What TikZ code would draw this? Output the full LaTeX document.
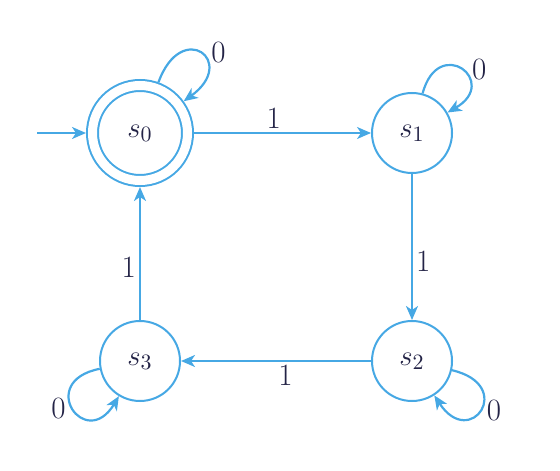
\documentclass[tikz,border=0pt]{standalone}
\usepackage{amsmath,amssymb}
\usepackage{xcolor}
\usetikzlibrary{arrows.meta}
\definecolor{edgeblue}{RGB}{70,168,228}
\definecolor{labelink}{RGB}{35,35,70}
\tikzset{
	state/.style={
			draw=edgeblue, circle, line width=1pt, minimum size=40pt, inner sep=0pt, text=labelink
		},
	accept/.style={
			state, double=white, double distance=4.5pt, minimum size=47.5pt, outer sep=3.25pt
		},
	trans/.style={
			draw=edgeblue, line width=1.1pt, -{Stealth[length=7pt, width=6pt, inset=2pt]}
		},
	sym/.style={
			text=labelink, inner sep=1.5pt
		}
}

\begin{document}
\begin{tikzpicture}[x=0.5pt, y=-0.5pt, every node/.style={font=\fontsize{15.5}{17}\selectfont}]
        \useasboundingbox (0,0) rectangle (560,470);

        % States
        \node[accept] (s0) at (140,133) {$s_0$};
        \node[state] (s1) at (412,133) {$s_1$};
        \node[state] (s2) at (412,361) {$s_2$};
        \node[state] (s3) at (140,361) {$s_3$};

        % Start
        \coordinate (start) at (37,133);
        \draw[trans] (start) -- (s0);

        % Arrows
        \draw[trans] (s0) -- node[sym, pos=0.45, above] {1} (s1);
        \draw[trans] (s1) -- node[sym, pos=0.6, right] {1} (s2);
        \draw[trans] (s2) -- node[sym, pos=0.45, below] {1} (s3);
        \draw[trans] (s3) -- node[sym, pos=0.4, left] {1} (s0);

        % Loops
        \draw[trans] (s0) to[out=70, in=36, looseness=5.5] node[sym, pos=0.5, right=3.5pt] {0} (s0);
        \draw[trans] (s1) to[out=75, in=30, looseness=5] node[sym, pos=0.5, right=3.5pt] {0} (s1);
        \draw[trans] (s2) to[out=-13, in=-57, looseness=5.5] node[sym, pos=0.52, right=1.5pt] {0} (s2);
        \draw[trans] (s3) to[out=191, in=239, looseness=5] node[sym, pos=0.5, left=1.5pt] {0} (s3);
    \end{tikzpicture}
\end{document}
